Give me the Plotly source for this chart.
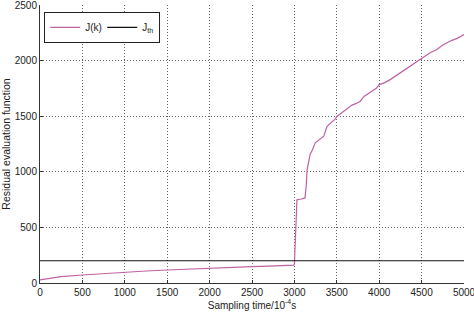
import plotly.graph_objects as go

# Data
t_j = [0, 120, 250, 500, 750, 1000, 1250, 1500, 1750, 2000, 2250, 2500, 2700, 2800, 2900, 2990,
       3000, 3008, 3015, 3022, 3030, 3080, 3125, 3140, 3150, 3185, 3215, 3245, 3300, 3345, 3385, 3430,
       3480, 3500, 3540, 3580, 3630, 3680, 3730, 3775, 3820, 3900, 3970, 4000, 4060, 4130, 4200,
       4250, 4320, 4400, 4485, 4550, 4600, 4680, 4750, 4850, 4920, 5000]
j_vals = [28, 45, 57, 72, 86, 99, 108, 117, 126, 135, 141, 147, 151, 156, 158, 160,
          168, 330, 560, 700, 748, 755, 765, 880, 1020, 1155, 1200, 1261, 1290, 1318, 1408, 1440,
          1474, 1498, 1520, 1544, 1575, 1600, 1615, 1633, 1678, 1720, 1754, 1784, 1800, 1829, 1865,
          1890, 1925, 1960, 2009, 2040, 2070, 2100, 2140, 2180, 2200, 2234]
t_th = [0, 5000]
j_th = [200, 200]

x_ticks = [0, 500, 1000, 1500, 2000, 2500, 3000, 3500, 4000, 4500, 5000]
y_ticks = [0, 500, 1000, 1500, 2000, 2500]

FONT = "Liberation Sans, Arial, sans-serif"

fig = go.Figure()
fig.add_trace(go.Scatter(x=t_j, y=j_vals, mode="lines", name="J(k)",
                         line=dict(color="#bf62a2", width=1.2)))
fig.add_trace(go.Scatter(x=t_th, y=j_th, mode="lines",
                         name="<span style='color:#222222'>J<sub>th</sub></span>",
                         line=dict(color="#111111", width=1.2)))

axis_common = dict(showgrid=True, gridcolor="#666666", griddash="1px,2px", gridwidth=1,
                   zeroline=False, showline=True, linecolor="#333333", linewidth=1,
                   ticks="inside", ticklen=3, tickcolor="#333333",
                   ticklabeloverflow="allow", automargin=False,
                   tickfont=dict(family=FONT, size=10, color="#222222"))

fig.update_xaxes(range=[0, 5000], tickvals=x_ticks, **axis_common,
                 title=dict(text="Sampling time/10<sup>-4</sup>s", standoff=4,
                            font=dict(family=FONT, size=10, color="#222222")))
fig.update_yaxes(range=[0, 2500], tickvals=y_ticks, **axis_common,
                 title=dict(text="Residual evaluation function", standoff=4,
                            font=dict(family=FONT, size=10.5, color="#222222")))

fig.update_layout(
    width=474, height=313,
    margin=dict(l=40, r=10, t=5, b=30),
    paper_bgcolor="white", plot_bgcolor="white",
    showlegend=True,
    legend=dict(orientation="h", x=0.01, y=0.975, xanchor="left", yanchor="top",
                bordercolor="#222222", borderwidth=1, bgcolor="white",
                font=dict(family=FONT, size=10, color="#222222"),
                itemwidth=30, entrywidth=12, entrywidthmode="pixels",
                tracegroupgap=0),
)

fig.write_html("out.html")
